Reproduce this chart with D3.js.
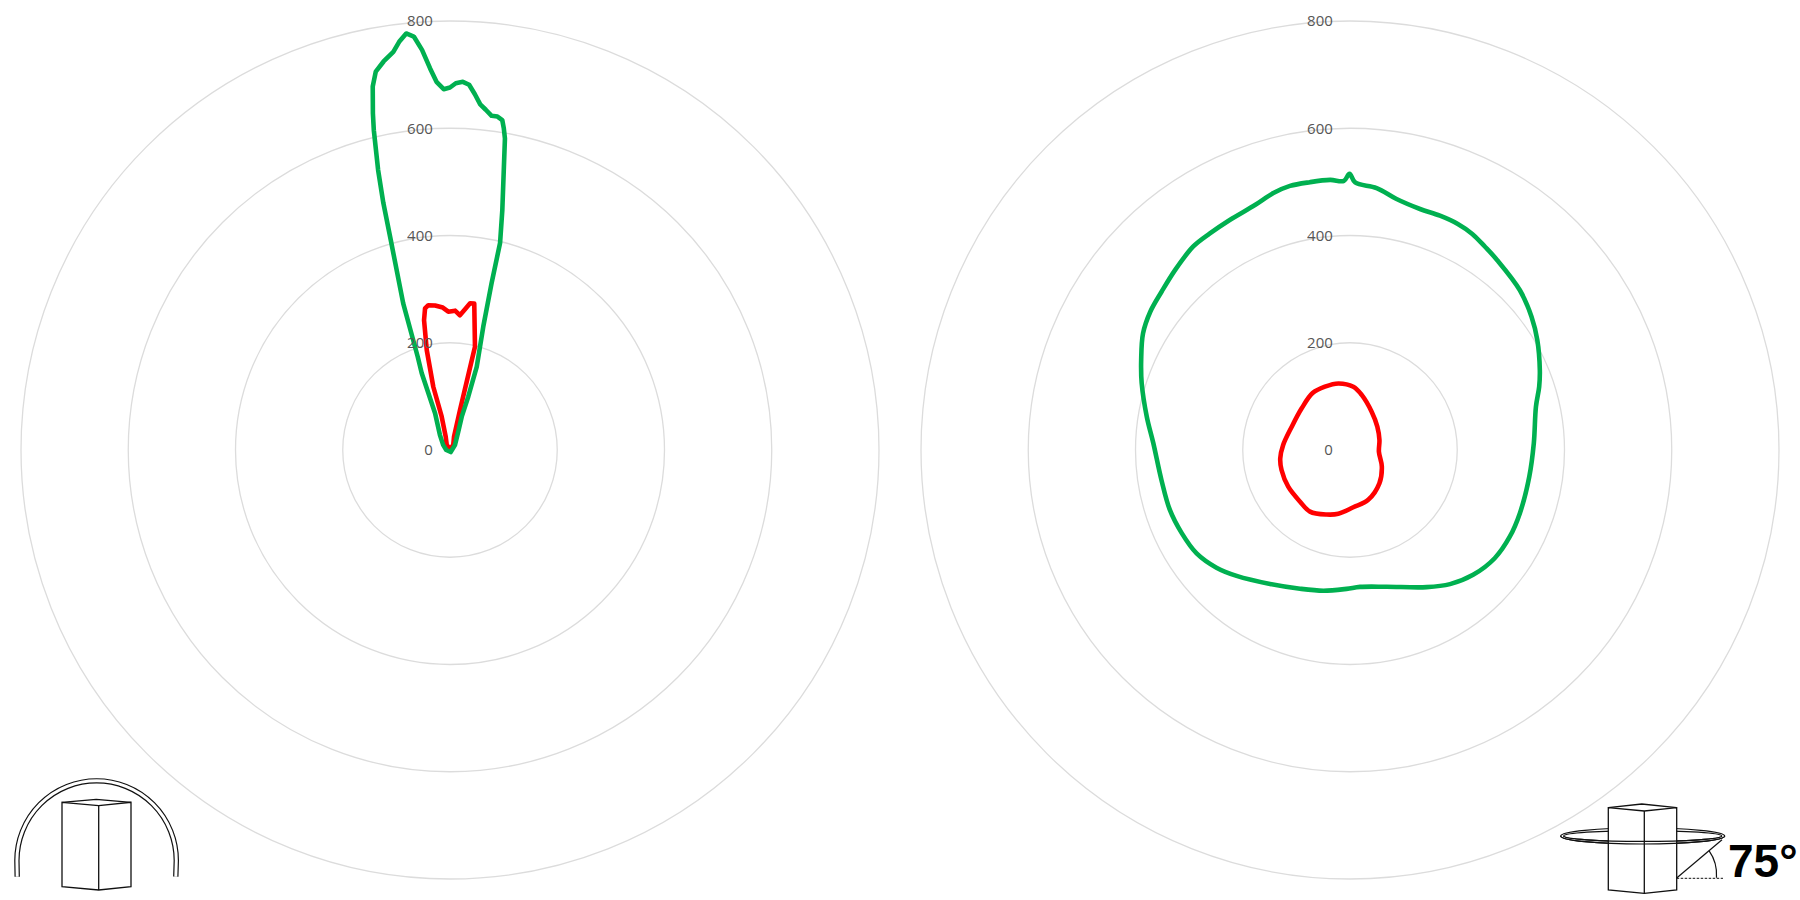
<!DOCTYPE html>
<html><head><meta charset="utf-8">
<style>html,body{margin:0;background:#fff}svg{display:block}</style>
<script src="https://cdn.jsdelivr.net/npm/d3@7"></script></head>
<body><svg id="chart" width="1800" height="900"></svg>
<script>
// Values: angle in degrees clockwise from north, radial value.
const radialTicks = [0, 200, 400, 600, 800];
const seriesColors = {peak: "#00b050", base: "#ff0000"};
const angleText = "75°";

const leftGreenAngles = [354.0,355.0,356.0,357.0,357.9,359.0,0.0,0.9,2.0,3.0,4.0,5.0,6.0,7.1,8.1,9.0,9.5,10.0,12.3,13.6,14.0,15.1,17.8,18.9,19.4,24.4,45.0,160.7,270.0,306.7,326.3,337.9,339.8,340.9,342.3,344.2,344.9,345.6,346.6,347.1,348.0,348.9,350.3,351.9,352.9];
const leftGreenValues = [781,774,748,713,687,673,676,684,687,682,665,647,638,628,628,623,608,590,458,397,320,238,163,105,66,37,13,4,7,16,34,74,153,184,287,403,477,539,613,644,693,719,735,750,767];
const leftRedAngles = [7.8,9.4,13.6,13.7,14.0,16.7,33.4,0.0,326.6,342.1,346.0,345.2,346.9,348.7,350.0,351.5,354.1,357.1,359.3,2.1,4.2,6.1];
const leftRedValues = [276,277,198,148,77,26,11,2,11,26,64,122,191,247,268,273,271,266,258,260,252,264];
const rightGreenAngles = [359.9,1.1,5.8,10.5,16.2,21.0,25.5,29.5,33.6,37.8,46.7,53.7,59.6,67.2,71.5,76.9,87.9,98.5,110.4,118.5,126.8,135.4,143.3,150.8,165.0,175.8,181.4,190.7,199.8,210.8,222.0,228.6,236.0,243.7,251.6,260.9,272.0,279.3,287.8,293.3,299.4,304.7,310.1,315.8,322.4,327.1,332.4,338.8,343.4,347.2,351.5,355.8,358.7];
const rightGreenValues = [515,499,491,476,468,468,467,463,455,448,435,420,405,384,372,356,343,338,338,339,337,327,312,293,264,256,259,267,275,291,316,332,345,350,354,356,367,384,408,424,443,453,459,468,479,481,484,490,500,505,505,505,502];
const rightRedAngles = [350.1,3.0,12.0,29.5,49.5,71.2,93.4,117.6,138.7,159.9,176.7,190.4,199.9,213.0,224.0,239.3,253.7,263.2,274.3,291.8,310.8,326.7,338.4];
const rightRedValues = [126,118,105,82,67,58,54,67,83,99,107,121,128,137,134,134,133,131,125,117,119,127,127];

const svg = d3.select("#chart");
const r = d3.scaleLinear().domain([0, 800]).range([0, 429]);
const a = d3.scaleLinear().domain([0, 360]).range([0, 2 * Math.PI]);

function polar(cx, cy, traces, curve) {
  const g = svg.append("g").attr("transform", `translate(${cx},${cy})`);
  g.selectAll("circle.ring").data(radialTicks.slice(1)).join("circle")
    .attr("class", "ring").attr("r", d => r(d))
    .attr("fill", "none").attr("stroke", "#dcdcdc").attr("stroke-width", 1.3);
  const line = d3.lineRadial().curve(curve)
    .angle(d => a(d.angle)).radius(d => r(d.value));
  traces.forEach(t => {
    const data = t.angles.map((angle, i) => ({angle, value: t.values[i]}));
    g.append("path").datum(data).attr("d", line).attr("fill", "none")
      .attr("stroke", t.color).attr("stroke-width", 4.6).attr("stroke-linejoin", "round");
  });
  g.append("g").style("opacity", 0.99).selectAll("text.tick").data(radialTicks).join("text")
    .attr("class", "tick").attr("x", -17.2).attr("y", d => -r(d)).attr("dy", "0.36em")
    .attr("text-anchor", "end").attr("fill", "#555")
    .style("font", "15px 'Open Sans'").text(d => d);
}

polar(450, 450, [
  {angles: leftRedAngles, values: leftRedValues, color: seriesColors.base},
  {angles: leftGreenAngles, values: leftGreenValues, color: seriesColors.peak}
], d3.curveLinearClosed);
polar(1350, 450, [
  {angles: rightRedAngles, values: rightRedValues, color: seriesColors.base},
  {angles: rightGreenAngles, values: rightGreenValues, color: seriesColors.peak}
], d3.curveCatmullRomClosed.alpha(0.5));

// Pictograms
function box(g, x0, xm, x1, yTop, yBack, yFront, yBot, yBotM) {
  g.append("path").attr("d",
    `M${x0},${yTop}L${xm},${yFront}L${x1},${yTop}L${x1},${yBot}L${xm},${yBotM}L${x0},${yBot}Z`)
    .attr("fill", "#fff").attr("stroke", "#111").attr("stroke-width", 1.3);
  g.append("path").attr("d",
    `M${x0},${yTop}L${xm - 2.5},${yBack}L${x1},${yTop}M${xm},${yFront}L${xm},${yBotM}`)
    .attr("fill", "none").attr("stroke", "#111").attr("stroke-width", 1.3);
}

const left = svg.append("g");
const arcD = "M17.2,876.7L16.9,860.5A79.7,79.7 0 0 1 176.3,860.5L175.8,876.7";
left.append("path").attr("d", arcD).attr("fill", "none").attr("stroke", "#111").attr("stroke-width", 5.4);
left.append("path").attr("d", arcD).attr("fill", "none").attr("stroke", "#fff").attr("stroke-width", 3);
box(left, 62, 98.7, 131, 802.3, 799.3, 805.7, 886.7, 890);

const right = svg.append("g");
const ecx = 1642.7, ecy = 836;
[[82, 8], [79, 5.4]].forEach(([rx, ry]) => {
  right.append("ellipse").attr("cx", ecx).attr("cy", ecy).attr("rx", rx).attr("ry", ry)
    .attr("fill", "#fff").attr("stroke", "#111").attr("stroke-width", 1.2);
});
box(right, 1608.3, 1644.3, 1676.7, 807.7, 804, 811, 890, 893.3);
[[82, 8], [79, 5.4]].forEach(([rx, ry]) => {
  right.append("path").attr("d", `M${ecx - rx},${ecy}A${rx},${ry} 0 0 0 ${ecx + rx},${ecy}`)
    .attr("fill", "none").attr("stroke", "#111").attr("stroke-width", 1.2);
});
right.append("path").attr("d", "M1676.7,878L1722,839.8").attr("fill", "none").attr("stroke", "#111").attr("stroke-width", 1.2);
right.append("path").attr("d", "M1676.7,878.3H1723").attr("fill", "none").attr("stroke", "#111")
  .attr("stroke-width", 1).attr("stroke-dasharray", "2.5,1.5");
right.append("path").attr("d", "M1709,850.7A42,42 0 0 1 1716.5,877.7").attr("fill", "none").attr("stroke", "#111").attr("stroke-width", 1.2);
svg.append("text").attr("x", 1728).attr("y", 877).attr("fill", "#000")
  .style("font", "bold 46px 'Liberation Sans'").text(angleText);
</script></body></html>
